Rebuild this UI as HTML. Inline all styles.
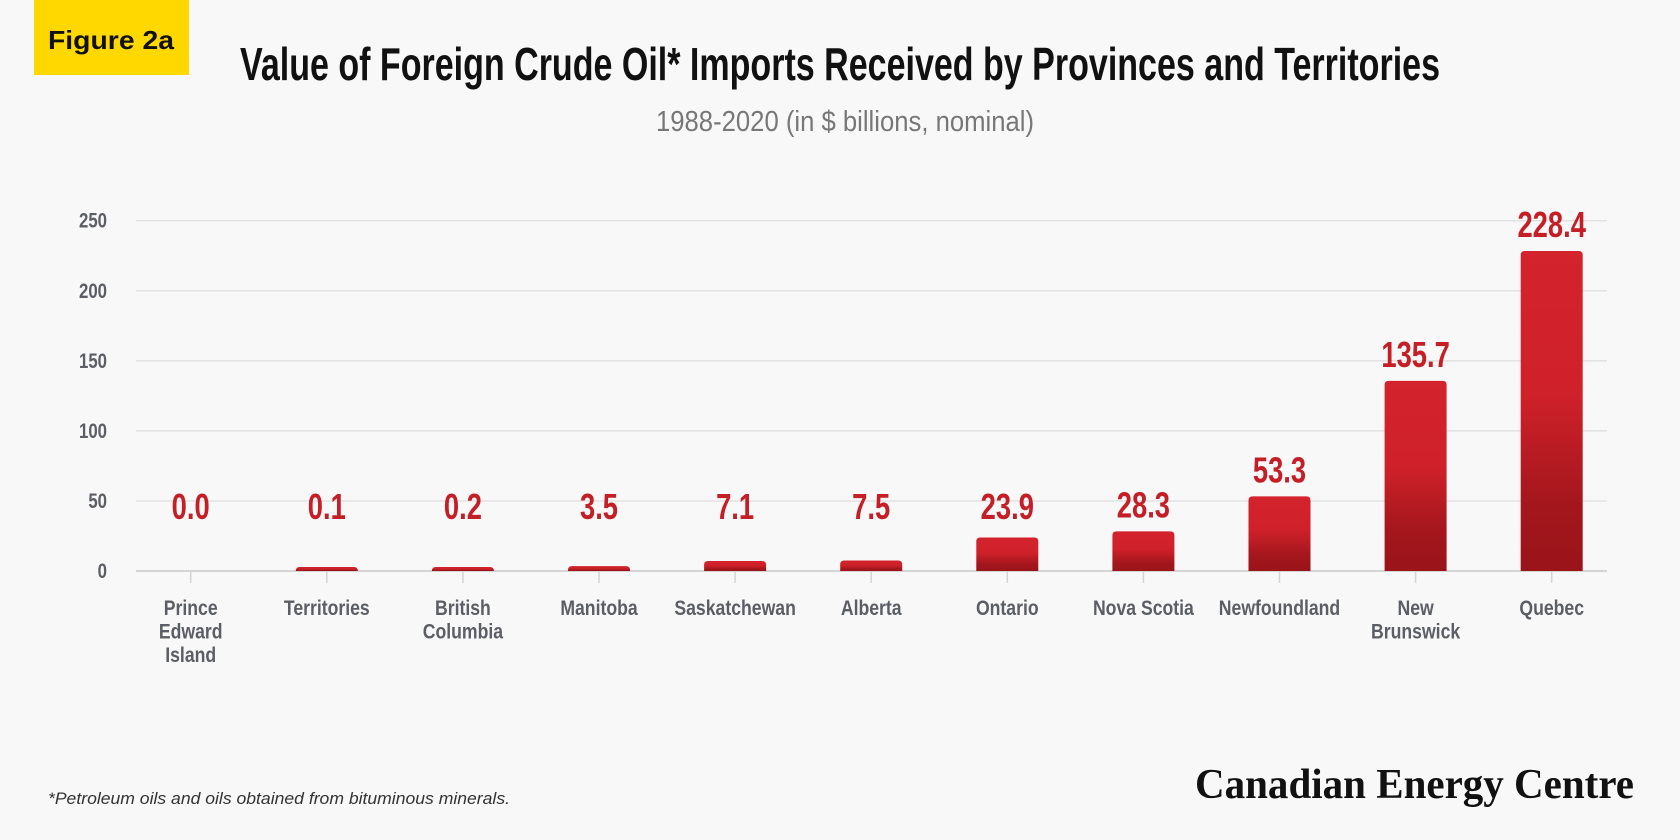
<!DOCTYPE html>
<html><head><meta charset="utf-8"><style>
html,body{margin:0;padding:0;background:#f8f8f8;}
svg{display:block;}
</style></head><body>
<svg id="chart" width="1680" height="840" viewBox="0 0 1680 840">
<defs>
<linearGradient id="barGrad" x1="0" y1="0" x2="0" y2="1">
<stop offset="0" stop-color="#d3232c"/><stop offset="0.45" stop-color="#cf212a"/><stop offset="0.8" stop-color="#a3161c"/><stop offset="1" stop-color="#9a1419"/>
</linearGradient>
</defs>
<rect x="0" y="0" width="1680" height="840" fill="#f8f8f8"/>
<rect x="34" y="0" width="155" height="75" fill="#ffd800"/>
<text x="111" y="49" text-anchor="middle" font-family="Liberation Sans, sans-serif" font-weight="bold" font-size="26" fill="#111" textLength="126" lengthAdjust="spacingAndGlyphs">Figure 2a</text>
<text x="840" y="80" text-anchor="middle" font-family="'Liberation Sans Narrow','Liberation Sans',sans-serif" font-weight="bold" font-size="46" fill="#111" textLength="1200" lengthAdjust="spacingAndGlyphs">Value of Foreign Crude Oil* Imports Received by Provinces and Territories</text>
<text x="845" y="131" text-anchor="middle" font-family="'Liberation Sans Narrow','Liberation Sans',sans-serif" font-size="29" fill="#777" textLength="378" lengthAdjust="spacingAndGlyphs">1988-2020  (in $ billions, nominal)</text>
<g id="grid"></g>
<g id="bars"></g>
<text x="48" y="804" font-family="Liberation Sans, sans-serif" font-style="italic" font-size="17" fill="#333" textLength="462" lengthAdjust="spacingAndGlyphs">*Petroleum oils and oils obtained from bituminous minerals.</text>
<text x="1195" y="798" font-family="'Liberation Serif',serif" font-weight="bold" font-size="42" fill="#111" textLength="439" lengthAdjust="spacingAndGlyphs">Canadian Energy Centre</text>
</svg>
<script>
const categories = [["Prince","Edward","Island"],["Territories"],["British","Columbia"],["Manitoba"],["Saskatchewan"],["Alberta"],["Ontario"],["Nova Scotia"],["Newfoundland"],["New","Brunswick"],["Quebec"]];
const values = [0.0, 0.1, 0.2, 3.5, 7.1, 7.5, 23.9, 28.3, 53.3, 135.7, 228.4];
const valueLabels = ["0.0","0.1","0.2","3.5","7.1","7.5","23.9","28.3","53.3","135.7","228.4"];
const yTicks = [0, 50, 100, 150, 200, 250];

const NS = "http://www.w3.org/2000/svg";
const y0 = 571, y250 = 220.7;
function yScale(v){ return y0 - (y0 - y250) * v / 250; }
function xScale(i){ return 190.7 + i * 136.1; }
const grid = document.getElementById('grid');
const bars = document.getElementById('bars');
function mk(tag, attrs, parent){ const e = document.createElementNS(NS, tag); for (const k in attrs) e.setAttribute(k, attrs[k]); parent.appendChild(e); return e; }
const FF = "'Liberation Sans Narrow','Liberation Sans',sans-serif";

yTicks.forEach(t => {
  const y = yScale(t);
  const l = mk('line', {x1:136, x2:1607, y1:y, y2:y, stroke: t===0?'#d4d4d4':'#e2e2e2', 'stroke-width': t===0?2:1.5}, grid);
  
  
  const tx = mk('text', {x:0, y:y+7, 'text-anchor':'end', transform:'translate(107,0) scale(0.8,1)', 'font-family':FF, 'font-weight':'bold', 'font-size':21, fill:'#5b5e64'}, grid);
  tx.textContent = t;
  
  
});

values.forEach((v, i) => {
  const cx = xScale(i), w = 62;
  let top = yScale(v);
  if (v > 0 && y0 - top < 4) top = y0 - 4;
  if (v > 0) {
    const h = y0 - top, r = Math.min(4, h);
    const d = `M${cx-w/2},${y0} V${top+r} Q${cx-w/2},${top} ${cx-w/2+r},${top} H${cx+w/2-r} Q${cx+w/2},${top} ${cx+w/2},${top+r} V${y0} Z`;
    const p = mk('path', {d:d, fill:'url(#barGrad)'}, bars);
    
    
  }
  const tk = mk('line', {x1:cx, x2:cx, y1:y0+1, y2:y0+12, stroke:'#d4d4d4', 'stroke-width':1.5}, bars);
  
  
  const ly = Math.min(top - 28, 505);
  const vl = mk('text', {x:0, y:ly+14, 'text-anchor':'middle', transform:`translate(${cx},0) scale(0.76,1)`, 'font-family':FF, 'font-weight':'bold', 'font-size':36, fill:'#c41e26'}, bars);
  vl.textContent = valueLabels[i];
  
  
  categories[i].forEach((line, j) => {
    const c = mk('text', {x:0, y:615 + j*23.5, 'text-anchor':'middle', transform:`translate(${cx},0) scale(0.84,1)`, 'font-family':FF, 'font-weight':'bold', 'font-size':21, fill:'#5b5e64'}, bars);
    c.textContent = line;
    
    
  });
});
</script>
</body></html>
